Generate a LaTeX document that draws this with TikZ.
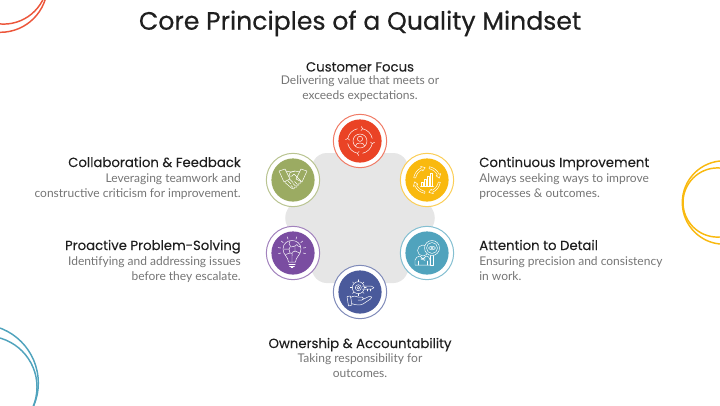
\documentclass[tikz,border=0pt]{standalone}
\usepackage{fontspec}
\usetikzlibrary{calc}
\setmainfont{Poppins}
\newfontfamily\bodyf{Lato}
\newfontfamily\titlef{Poppins}[FakeBold=0.45]
\newfontfamily\headf{Poppins}[FakeBold=0.08]
\definecolor{cred}{HTML}{EA4325}
\definecolor{cyel}{HTML}{F9B90F}
\definecolor{cgrn}{HTML}{9BAB62}
\definecolor{cpur}{HTML}{7A4DA1}
\definecolor{cteal}{HTML}{50A3BD}
\definecolor{cnav}{HTML}{4A5A9B}
\definecolor{chex}{HTML}{E6E6E6}
\definecolor{ctxt}{HTML}{757575}
\definecolor{chead}{HTML}{1F1F1F}
\tikzset{
  x=0.75pt,y=-0.75pt,
  disk/.style={circle,minimum size=32.4pt,inner sep=0pt,fill=#1},
  ring/.style={circle,minimum size=40pt,inner sep=0pt,fill=white,draw=#1!70!white,line width=0.75pt},
  ic/.style={draw=white,line width=0.36pt,line cap=round,line join=round,fill=none},
  deco/.style={line width=1.1pt,fill=none},
  title/.style={inner sep=0pt,font=\titlef\fontsize{18.85}{22}\selectfont,text=chead},
  head/.style={inner sep=0pt,font=\headf\fontsize{9.95}{12}\selectfont,text=chead},
  body/.style={inner sep=0pt,font=\bodyf\fontsize{9}{11.2}\selectfont,text=ctxt},
}
\begin{document}
\begin{tikzpicture}
\useasboundingbox (0,0) rectangle (720,405);
% decorative arcs
\begin{scope}
\clip (0,0) rectangle (720,405);
\draw[deco,cred!90!white] (0.4,-14.7) circle[radius=47];
\draw[deco,cred!90!white] (3.5,-19.9) circle[radius=44];
\draw[deco,cyel] (724,202.5) circle[radius=41.7];
\draw[deco,cyel] (717.6,202.5) circle[radius=34.6];
\draw[deco,cteal] (-20.3,383) circle[radius=58.6];
\draw[deco,cteal] (-13.9,387) circle[radius=50.9];
\end{scope}
% central hexagon
\fill[chex,rounded corners=6pt] (318,153) -- (402,153) -- (437,218) -- (402,283) -- (318,283) -- (283,218) -- cycle;
% discs
\node[ring=cred] (r1) at (360,141) {};
\node[disk=cred] (d1) at (360,141) {};
\node[ring=cyel] (r2) at (427,180) {};
\node[disk=cyel] (d2) at (427,180) {};
\node[ring=cteal] (r3) at (427,253) {};
\node[disk=cteal] (d3) at (427,253) {};
\node[ring=cnav] (r4) at (360,292) {};
\node[disk=cnav] (d4) at (360,292) {};
\node[ring=cpur] (r5) at (293,253) {};
\node[disk=cpur] (d5) at (293,253) {};
\node[ring=cgrn] (r6) at (293,180) {};
\node[disk=cgrn] (d6) at (293,180) {};
% icon: customer focus
\begin{scope}[shift={(360,141)}]
\draw[ic] (0,0) circle[radius=7];
\draw[ic] (0,-2.2) circle[radius=2.6];
\draw[ic] (-4.6,5) .. controls (-4.4,1) and (4.4,1) .. (4.6,5);
\foreach \a in {0,90,180,270}{
 \draw[ic] (\a+12:12.5) arc[start angle=\a+12,end angle=\a+78,radius=12.5];
 \draw[ic] (\a+12:12.5) -- (\a+5:10.5);
 \draw[ic] (\a+12:12.5) -- (\a+5:14.6);
}
\end{scope}
% icon: continuous improvement
\begin{scope}[shift={(427,180)}]
\foreach \x/\h in {-4.5/4,-1.5/7,1.5/10,4.5/13}{
 \draw[ic] (\x-1.1,6) rectangle (\x+1.1,6-\h);
}
\draw[ic] (-6.5,6) -- (6.5,6);
\foreach \a in {10,100,190,280}{
 \draw[ic] (\a:11.5) arc[start angle=\a,end angle=\a+55,radius=11.5] -- (\a+55:10) -- (\a+72:12.5) -- (\a+55:15) -- (\a+55:13.5) arc[start angle=\a+55,end angle=\a,radius=13.5] -- cycle;
}
\end{scope}
% icon: attention to detail
\begin{scope}[shift={(427,253)}]
\draw[ic] (-4,-2.5) circle[radius=5.5];
\draw[ic] (-12,12) -- (-12,7) .. controls (-12,4) and (-9,4) .. (-7,3) -- (-4,6) -- (-1,3) .. controls (1,3.5) and (3,4) .. (3,7) -- (3,12) -- cycle;
\draw[ic] (-6,5.5) -- (-2,7.5) -- (-2,4.5) -- (-6,6.5) -- cycle;
\draw[ic] (-9,8) -- (-9,12);
\draw[ic] (0.5,8) -- (0.5,12);
\draw[ic,fill=cteal] (5,-5) circle[radius=7.5];
\draw[ic] (5,-5) circle[radius=5.5];
\draw[ic] (1.5,-5) .. controls (3,-7.5) and (7,-7.5) .. (8.5,-5) .. controls (7,-2.5) and (3,-2.5) .. (1.5,-5);
\draw[ic] (5,-5) circle[radius=1.2];
\draw[ic] (3.5,2.5) -- (3.5,12) -- (6.5,12) -- (6.5,2.5);
\end{scope}
% icon: ownership
\begin{scope}[shift={(360,292)}]
\draw[ic] (-1.7,-4.3) circle[radius=3];
\draw[ic] (-1.7,-4.3) circle[radius=1.4];
\foreach \a in {0,45,...,315}{
 \draw[ic] ($(-1.7,-4.3)+(\a:6)$) -- ($(-1.7,-4.3)+(\a:8)$);
}
\draw[ic] (-1.7,-4.3) circle[radius=6];
\draw[ic] (2,-5.8) -- (11.5,-5.8) -- (14,-4.3) -- (11.5,-2.8) -- (2,-2.8);
\draw[ic] (7,-2.8) -- (7,-1);
\draw[ic] (10,-2.8) -- (10,-1);
\draw[ic] (-13,4.5) -- (-9.5,4) -- (-8,13) -- (-11.5,14) -- cycle;
\draw[ic] (-9.5,5.5) .. controls (-6,3.5) and (-4,4) .. (-2,5) -- (2,5) .. controls (4,5) and (4,8) .. (2,8) -- (-2,8);
\draw[ic] (2.5,7.5) -- (9,4.5) .. controls (12,4) and (12.5,6) .. (10.5,7) -- (3,12) .. controls (0,13.5) and (-5,13) .. (-8.5,11.5);
\end{scope}
% icon: proactive
\begin{scope}[shift={(292,254)}]
\draw[ic] (-3.5,8) .. controls (-3.5,3) and (-9,1) .. (-9,-5) .. controls (-9,-11) and (-4,-13.5) .. (0,-13.5) .. controls (4,-13.5) and (9,-11) .. (9,-5) .. controls (9,1) and (3.5,3) .. (3.5,8) -- cycle;
\draw[ic] (-3.2,10) -- (3.2,10);
\draw[ic] (-2.5,12) -- (2.5,12);
\draw[ic] (-1,13.5) -- (1,13.5);
\draw[ic] (-8,-5) -- (-3,-5) .. controls (-1,-7) and (-1,-9) .. (-3,-10) -- (-2,-13);
\draw[ic] (-3,-5) -- (-2,-1) .. controls (0,-2) and (1,0) .. (0,2) -- (0,8);
\draw[ic] (-2,-1) -- (-6.5,0.5);
\draw[ic] (-1,-7) -- (3,-8) .. controls (4,-10) and (6,-10) .. (6,-8) -- (8.5,-7);
\draw[ic] (3,-8) -- (3,-3) -- (8,-1);
\draw[ic] (3,-3) -- (0,-1.5);
\foreach \a in {-170,-140,-110,-70,-40,-10,15,165}{
 \draw[ic] ($(0,-4)+(\a:11.5)$) -- ($(0,-4)+(\a:14)$);
}
\end{scope}
% icon: collaboration
\begin{scope}[shift={(293,180)}]
\draw[ic] (-14,-9) -- (-8,-11) -- (-3,-1) -- (-9,2) -- cycle;
\draw[ic] (14,-9) -- (8,-11) -- (3,-1) -- (9,2) -- cycle;
\draw[ic] (-7,-9) -- (-2,-8) -- (2,-9) -- (7,-8);
\draw[ic] (2,-9) -- (-3,-7.5) -- (-4,-4) .. controls (-2,-3) and (0,-4) .. (1,-6) -- (8,1) .. controls (9,3) and (7,4) .. (6,3);
\draw[ic] (6,3) .. controls (7,5) and (5,6) .. (4,5);
\draw[ic] (4,5) .. controls (5,7) and (3,8) .. (2,7);
\draw[ic] (2,7) .. controls (2,9) and (0,9.5) .. (-1,8.5) -- (-8,2.5);
\draw[ic] (-5,1) -- (-2,4) (-3,-0.5) -- (0,2.5) (-2,5.5) -- (0,7.5) (0,3.5) -- (2.5,6) (1.5,1.5) -- (4.5,4.5);
\end{scope}
% title
\node[title,anchor=base] (t) at (360,29.7) {Core Principles of a Quality Mindset};
% texts
\node[head,anchor=base] (h1) at (360,71.5) {Customer Focus};
\node[body,align=center,anchor=north] (b1) at (360,75.5) {Delivering value that meets or\\exceeds expectations.};
\node[head,anchor=base west] (h2) at (479,167) {Continuous Improvement};
\node[body,align=left,anchor=north west] (b2) at (479,173) {Always seeking ways to improve\\processes \& outcomes.};
\node[head,anchor=base west] (h3) at (479,250) {Attention to Detail};
\node[body,align=left,anchor=north west] (b3) at (479,256) {Ensuring precision and consistency\\in work.};
\node[head,anchor=base] (h4) at (360,348) {Ownership \& Accountability};
\node[body,align=center,anchor=north] (b4) at (360,353) {Taking responsibility for\\outcomes.};
\node[head,anchor=base east] (h5) at (241,250) {Proactive Problem-Solving};
\node[body,align=right,anchor=north east] (b5) at (241,256) {Identifying and addressing issues\\before they escalate.};
\node[head,anchor=base east] (h6) at (241,167) {Collaboration \& Feedback};
\node[body,align=right,anchor=north east] (b6) at (241,173) {Leveraging teamwork and\\constructive criticism for improvement.};
\end{tikzpicture}
\end{document}
